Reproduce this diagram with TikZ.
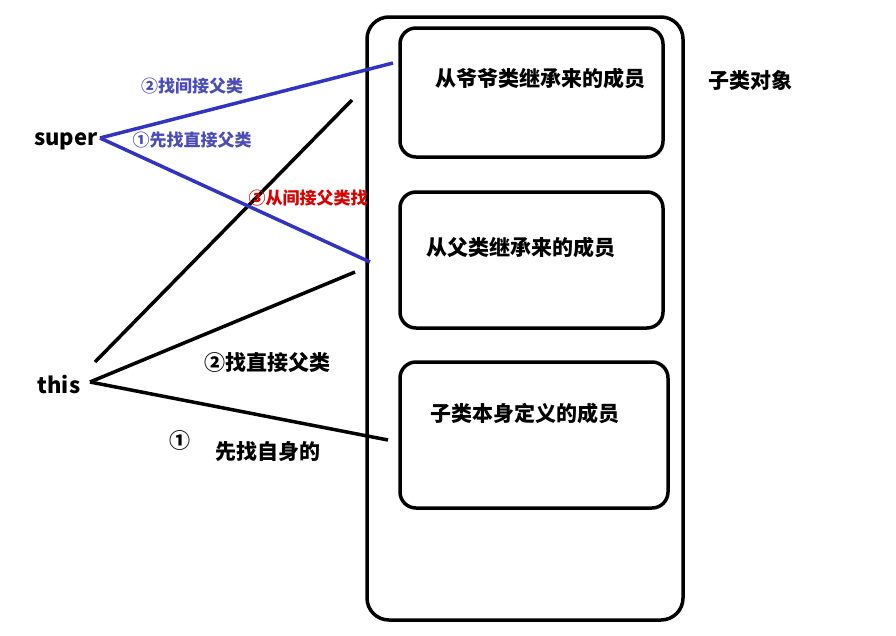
\documentclass[tikz,border=0pt]{standalone}
\usepackage{fontspec}
\setmainfont{Noto Sans CJK SC}
\begin{document}
\begin{tikzpicture}[x=1pt,y=-1pt,
  box/.style={draw,line width=3.5pt,rounded corners=16pt},
  big/.style={font=\bfseries\fontsize{21}{24}\selectfont},
  lbl/.style={font=\bfseries\fontsize{17}{20}\selectfont},
  bl/.style={draw=blue!70!black!80,line width=3.5pt},
  bk/.style={draw,line width=3.5pt}]
\useasboundingbox (0,0) rectangle (896,635);
\draw[box,rounded corners=22pt] (367,17) rectangle (683,620);
\draw[box] (400,28) rectangle (663,157);
\draw[box] (400,192) rectangle (663,328);
\draw[box] (400,362) rectangle (668,508);
\node[big] (n1) at (540,78) {从爷爷类继承来的成员};
\node[big] (obj) at (750,80) {子类对象};
\node[big] (n2) at (521,247) {从父类继承来的成员};
\node[big] (n3) at (525,413) {子类本身定义的成员};
\node[big,font=\bfseries\fontsize{22}{24}\selectfont] (super) at (66,141) {super};
\node[big,font=\bfseries\fontsize{22}{24}\selectfont] (this) at (59,385) {this};
\coordinate (s) at (100,138);
\coordinate (t) at (90,382);
\coordinate (a1) at (393,63);
\coordinate (a2) at (370,262);
\coordinate (b1) at (352,100);
\coordinate (b0) at (95,362);
\coordinate (b2) at (355,272);
\coordinate (b3) at (388,440);
\draw[bk] (b0) -- (b1);
\draw[bk] (t) -- (b2);
\draw[bk] (t) -- (b3);
\draw[bl] (s) -- (a1);
\draw[bl] (s) -- (a2);
\node[lbl,text=blue!60!black!70] (l1) at (192,86) {②找间接父类};
\node[lbl,text=blue!60!black!70] (l2) at (192,140) {①先找直接父类};
\node[lbl,text=red!85!black] (l3) at (308,198) {③从间接父类找};
\node[big] (l4) at (267,363) {②找直接父类};
\node[big] (l5) at (180,441) {①};
\node[big] (l6) at (268,452) {先找自身的};
\end{tikzpicture}
\end{document}
